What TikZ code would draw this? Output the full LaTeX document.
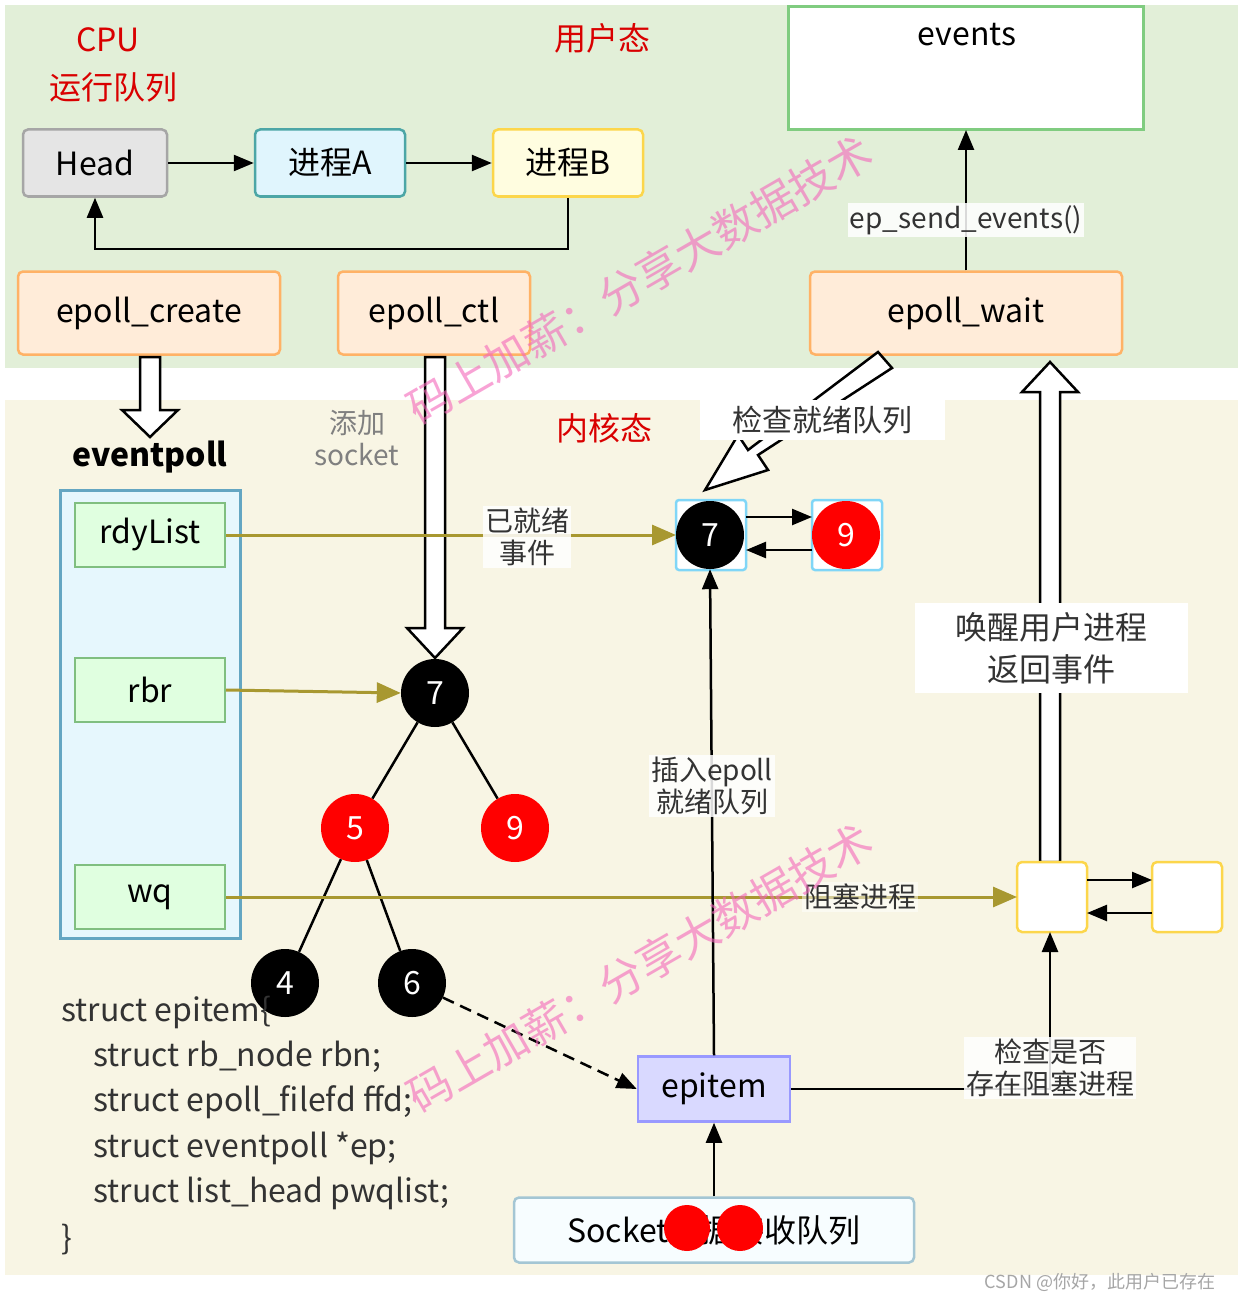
\documentclass[tikz,border=0pt]{standalone}
\usepackage{fontspec}
\setmainfont{Noto Sans CJK SC}
\usetikzlibrary{arrows.meta}
\definecolor{olive}{HTML}{A89830}
\definecolor{topbg}{RGB}{226,239,216}
\definecolor{botbg}{RGB}{248,245,228}
\tikzset{
 bx/.style={draw,line width=2.5pt,rounded corners=5pt,font=\fontsize{32}{36}\selectfont},
 proc/.style={bx,fill=orange!15,draw=orange!60},
 fld/.style={draw=green!50!black!50,fill=green!12,line width=2pt,font=\fontsize{32}{36}\selectfont},
 rb/.style={circle,minimum size=68pt,inner sep=0pt,text=white,font=\fontsize{32}{36}\selectfont},
 blk/.style={rb,fill=black},
 red/.style={rb,fill=red},
 ar/.style={-{Triangle[length=20pt,width=16pt]},line width=2.5pt},
 oar/.style={-{Triangle[length=24pt,width=20pt]},line width=3pt,draw=olive},
 lab/.style={fill=white,fill opacity=0.85,text opacity=1,font=\fontsize{28}{32}\selectfont,align=center,inner sep=2pt,text=black!80},
 hol/.style={draw,fill=white,line width=2.5pt},
 wm/.style={text=magenta!60,opacity=0.6,font=\fontsize{44}{48}\selectfont,rotate=30},
 rt/.style={text=red!85!black,font=\fontsize{32}{36}\selectfont,align=center},
 code/.style={anchor=west,font=\fontsize{32}{36}\selectfont,text=black!80}
}
\begin{document}
\begin{tikzpicture}[x=1pt,y=-1pt]
\useasboundingbox (0,0) rectangle (1243,1300);
\fill[white] (0,0) rectangle (1243,1300);
\fill[topbg] (5,5) rectangle (1238,368);
\fill[botbg] (5,400) rectangle (1238,1275);
\node[rt] (cpu) at (108,40) {CPU};
\node[rt] (rq) at (113,87) {运行队列};
\node[rt] (ut) at (602,38) {用户态};
\node[rt] (kt) at (604,428) {内核态};
% events
\draw[draw=green!60!black!50,line width=3pt,fill=white] (788,7) rectangle (1143,130);
\node[font=\fontsize{32}{36}\selectfont] (ev) at (967,35) {events};
\coordinate (evb) at (966,130);
% run queue
\node[bx,fill=gray!20,draw=gray!70,minimum width=144pt,minimum height=67pt] (head) at (95,163) {Head};
\node[bx,fill=cyan!12,draw=teal!70,minimum width=150pt,minimum height=67pt] (pa) at (330,163) {进程A};
\node[bx,fill=yellow!12,draw=yellow!60!orange!70,minimum width=150pt,minimum height=67pt] (pb) at (568,163) {进程B};
\draw[ar] (head) -- (pa);
\draw[ar] (pa) -- (pb);
\draw[ar] (pb.south) -- ++(0,51) -| (head.south);
% epoll procs
\node[proc,minimum width=262pt,minimum height=83pt] (ec) at (149,313) {epoll\_create};
\node[proc,minimum width=192pt,minimum height=83pt] (ectl) at (434,313) {epoll\_ctl};
\node[proc,minimum width=312pt,minimum height=83pt] (ew) at (966,313) {epoll\_wait};
\draw[ar] (ew.north) -- (evb);
\node[lab] (sev) at (966,220) {ep\_send\_events()};
% hollow arrows
\draw[hol] (140,357) -- (160,357) -- (160,410) -- (178,410) -- (150,437) -- (122,410) -- (140,410) -- cycle;
\draw[hol] (425,357) -- (445,357) -- (445,628) -- (463,628) -- (435,658) -- (407,628) -- (425,628) -- cycle;
\draw[hol] (1040,862) -- (1060,862) -- (1060,392) -- (1078,392) -- (1050,362) -- (1022,392) -- (1040,392) -- cycle;
\draw[hol] (878,352) -- (892,368) -- (758,455) -- (768,470) -- (705,490) -- (738,435) -- (748,450) -- cycle;
\node[font=\fontsize{32}{36}\selectfont\bfseries] (ep) at (150,457) {eventpoll};
\node[text=gray,font=\fontsize{28}{32}\selectfont,align=center] (tj) at (357,438) {添加\\socket};
\node[lab,fill=white,minimum width=245pt,minimum height=40pt,fill opacity=1,font=\fontsize{30}{34}\selectfont] (chk) at (822,420) {检查就绪队列};
% eventpoll container
\draw[draw=cyan!50!gray,fill=cyan!10,line width=3pt] (60,490) rectangle (240,938);
\node[fld,minimum width=150pt,minimum height=64pt] (rdy) at (150,535) {rdyList};
\node[fld,minimum width=150pt,minimum height=64pt] (rbr) at (150,690) {rbr};
\node[fld,minimum width=150pt,minimum height=64pt] (wq) at (150,897) {wq};
% ready list
\draw[draw=cyan!50,line width=2.5pt,rounded corners=3pt,fill=white] (676,500) rectangle (746,570);
\draw[draw=cyan!50,line width=2.5pt,rounded corners=3pt,fill=white] (812,500) rectangle (882,570);
\node[blk] (r7) at (710,535) {7};
\node[red] (r9) at (846,535) {9};
\draw[ar] (746,517) -- (812,517);
\draw[ar] (812,550) -- (746,550);
\draw[oar] (rdy.east) -- (676,535);
\node[lab] (yjx) at (527,537) {已就绪\\事件};
% tree
\node[blk] (t7) at (435,693) {7};
\node[red] (t5) at (355,828) {5};
\node[red] (t9) at (515,828) {9};
\node[blk] (t4) at (285,983) {4};
\node[blk] (t6) at (412,983) {6};
\draw[line width=2.5pt] (t7) -- (t5) (t7) -- (t9) (t5) -- (t4) (t5) -- (t6);
\draw[oar] (rbr.east) -- (t7.west);
% wait queue
\draw[draw=yellow!60!orange!70,line width=2.5pt,rounded corners=5pt,fill=white] (1017,862) rectangle (1087,932);
\draw[draw=yellow!60!orange!70,line width=2.5pt,rounded corners=5pt,fill=white] (1152,862) rectangle (1222,932);
\coordinate (wq1) at (1017,897);
\coordinate (wq1b) at (1050,932);
\draw[ar] (1087,880) -- (1152,880);
\draw[ar] (1152,913) -- (1087,913);
\draw[oar] (wq.east) -- (wq1);
\node[lab,fill opacity=0.5] (zs) at (860,897) {阻塞进程};
\node[lab,fill opacity=1,minimum width=273pt,minimum height=90pt,font=\fontsize{32}{42}\selectfont] (hx) at (1051,648) {唤醒用户进程\\返回事件};
% epitem
\node[draw=blue!40,fill=blue!15,line width=2.5pt,minimum width=152pt,minimum height=65pt,font=\fontsize{32}{36}\selectfont] (epi) at (714,1089) {epitem};
\draw[ar] (epi.north) -- (r7.south);
\node[lab] (cr) at (712,786) {插入epoll\\就绪队列};
\draw[ar,dash pattern=on 12pt off 7pt] (t6) -- (epi.west);
\draw[ar] (epi.east) -- (1050,1089) -- (wq1b);
\node[lab] (jc) at (1050,1068) {检查是否\\存在阻塞进程};
% socket
\node[bx,draw=cyan!40!gray!60,fill=cyan!3,minimum width=400pt,minimum height=65pt] (sock) at (714,1230) {Socket数据接收队列};
\draw[ar] (sock.north) -- (epi.south);
\fill[red] (687,1228) circle (23);
\fill[red] (740,1228) circle (23);
% code
\node[code] (c1) at (58,1012) {struct epitem\{};
\node[code] (c2) at (90,1057) {struct rb\_node rbn;};
\node[code] (c3) at (90,1102) {struct epoll\_filefd ffd;};
\node[code] (c4) at (90,1148) {struct eventpoll *ep;};
\node[code] (c5) at (90,1193) {struct list\_head pwqlist;};
\node[code] (c6) at (58,1240) {\}};
% watermarks
\node[wm] (w1) at (640,280) {码上加薪：分享大数据技术};
\node[wm] (w2) at (640,968) {码上加薪：分享大数据技术};
\node[text=gray!70,font=\fontsize{18}{20}\selectfont] (csdn) at (1100,1282) {CSDN @你好，此用户已存在};
\end{tikzpicture}
\end{document}
